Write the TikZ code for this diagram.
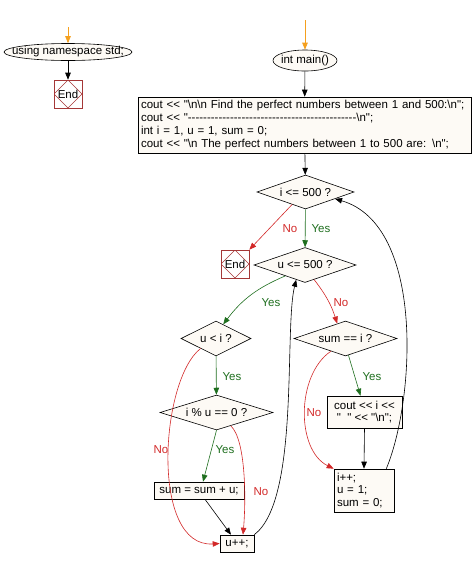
\documentclass[tikz,border=0pt]{standalone}
\usepackage{fontspec}
\setmainfont{Liberation Sans}[Ligatures=TeXOff]
\usetikzlibrary{shapes.geometric,arrows.meta}
\definecolor{pnfill}{RGB}{253,250,245}
\definecolor{pngreen}{RGB}{30,110,30}
\definecolor{pnred}{RGB}{210,40,40}
\definecolor{pnmaroon}{RGB}{165,55,55}
\definecolor{pnorange}{RGB}{245,160,30}
\newcommand\pnbs{\textbackslash}
\tikzset{pnbox/.style={draw,fill=pnfill,inner sep=3pt,line width=0.6pt},
         pndec/.style={diamond,draw,fill=pnfill,inner sep=0pt,shape aspect=3,line width=0.6pt},
         pnoval/.style={ellipse,draw,fill=pnfill,inner xsep=-12pt,inner ysep=0pt,line width=0.6pt},
         pnend/.style={draw=pnmaroon,minimum size=28pt,inner sep=0pt,line width=0.6pt,
           path picture={\draw[pnmaroon] (path picture bounding box.north)--(path picture bounding box.east)
             --(path picture bounding box.south)--(path picture bounding box.west)--cycle;}},
         pnarr/.style={-{Triangle[length=7pt,width=5.5pt]},line width=0.6pt},
         pnyes/.style={text=pngreen},
         pnno/.style={text=pnred}}

\begin{document}
\begin{tikzpicture}[x=1pt,y=-1pt,font=\fontsize{11.5}{12.8}\selectfont]
    \useasboundingbox (0,0) rectangle (474,566);
    % using namespace std
    \coordinate (s1) at (68,27);
    \node[pnoval,minimum width=128pt,minimum height=17pt] (ns) at (68,52) {using namespace std;};
    \node[pnend] (end1) at (68,94) {End};
    % main
    \coordinate (s2) at (305,20);
    \node[pnoval,minimum width=64pt,minimum height=21pt] (main) at (305,60.5) {int main()};
    \node[pnbox,text width=327pt,align=left,minimum height=56pt] (init) at (304.5,125)
      {cout << "\pnbs n\pnbs n Find the perfect numbers between 1 and 500:\pnbs n";\\
       cout << "--------------------------------------------\pnbs n";\\
       int i = 1, u = 1, sum = 0;\\
       cout << "\pnbs n The perfect numbers between 1 to 500 are: \pnbs n";};
    \node[pndec,minimum width=97pt,minimum height=34pt] (c1) at (305.5,192) {i <= 500 ?};
    \node[pnend] (end2) at (235,264) {End};
    \node[pndec,minimum width=102pt,minimum height=35pt] (c2) at (305,265) {u <= 500 ?};
    \node[pndec,minimum width=70pt,minimum height=35pt] (c3) at (216,338.5) {u < i ?};
    \node[pndec,minimum width=113pt,minimum height=35pt] (c5) at (216.5,412.5) {i \% u == 0 ?};
    \node[pnbox,minimum width=90pt,minimum height=17pt,inner sep=0pt] (sumbox) at (199,490.5) {sum = sum + u;};
    \node[pnbox,minimum width=34pt,minimum height=17pt,inner sep=0pt] (uinc) at (237,543.5) {u++;};
    \node[pndec,minimum width=103pt,minimum height=35pt] (c4) at (345.5,338.5) {sum == i ?};
    \node[pnbox,minimum width=75pt,minimum height=32pt,align=center,inner sep=0pt] (cout) at (364.5,412)
      {cout << i <<\\ "\ \ " << "\pnbs n";};
    \node[pnbox,text width=54pt,align=left,minimum height=43pt] (iinc) at (364,490.5)
      {i++;\\ u = 1;\\ sum = 0;};
    % connectors
    \draw[pnarr,pnorange] (s1) -- (ns);
    \draw[pnarr] (ns) -- (end1);
    \draw[pnarr,pnorange] (s2) -- (main);
    \draw[pnarr] (main) -- (init);
    \draw[pnarr] (init) -- (c1);
    \draw[pnarr,pngreen] (c1) -- (c2);
    \draw[pnarr,pnred] (c1.223) -- (end2.north east);
    \draw[pnarr,pngreen] (c2.209) to[bend right=15] (c3.63);
    \draw[pnarr,pnred] (c2.-58) to[bend left=10] (c4.119);
    \draw[pnarr,pngreen] (c3) -- (c5);
    \draw[pnarr,pnred] (c3.213) .. controls (160,380) and (150,548) .. (uinc.west);
    \draw[pnarr,pngreen] (c5.south) -- ([xshift=4pt]sumbox.north);
    \draw[pnarr,pnred] (c5.-43) .. controls (246,440) and (246,500) .. ([xshift=6pt]uinc.north);
    \draw[pnarr] ([xshift=6pt]sumbox.south) -- ([xshift=-6pt]uinc.north);
    \draw[pnarr] (uinc.north east) .. controls (300,500) and (284,330) .. (c2.239);
    \draw[pnarr,pngreen] (c4.-80) -- ([xshift=-4pt]cout.north);
    \draw[pnarr,pnred] (c4.221) .. controls (296,375) and (296,450) .. (iinc.north west);
    \draw[pnarr] (cout.south) -- (iinc.north);
    \draw[pnarr] ([xshift=-8pt]iinc.north east) .. controls (415,400) and (425,225) .. (c1.-13);
    % labels
    \foreach \x/\y/\n/\s/\t in {290/229/n1/pnno/No,321/229/y1/pnyes/Yes,271/303/y2/pnyes/Yes,
        341/303/n2/pnno/No,232/377/y3/pnyes/Yes,372/377/y4/pnyes/Yes,161/450/n3/pnno/No,
        225/450/y5/pnyes/Yes,314/413/n4/pnno/No,261/492/n5/pnno/No}
      {\node[\s] (\n) at (\x,\y) {\t};}
  \end{tikzpicture}
\end{document}
